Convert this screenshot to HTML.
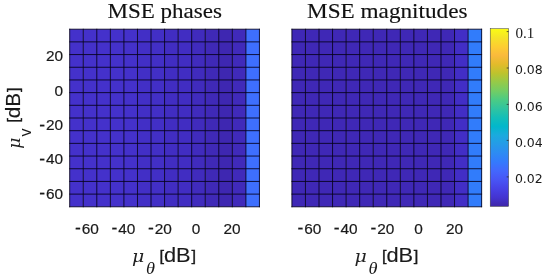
<!DOCTYPE html>
<html><head><meta charset="utf-8"><title>MSE</title>
<style>
html,body{margin:0;padding:0;background:#fff;}
body{width:550px;height:280px;overflow:hidden;}
svg{display:block;}
text{fill:#1a1a1a;}
.tk{font-family:"Liberation Sans",sans-serif;font-size:15.4px;stroke:#1a1a1a;stroke-width:0.2px;}
.hy{font-size:17.5px;}
.cb{font-family:"Liberation Serif",serif;font-size:13.6px;}
.cbs{font-family:"DejaVu Sans",sans-serif;font-size:12.5px;}
.ttl{font-family:"Liberation Serif",serif;font-size:21.5px;fill:#111;stroke:#111;stroke-width:0.15px;}
.br,.db{font-family:"Liberation Sans",sans-serif;}
.mu{font-family:"DejaVu Serif",serif;font-style:italic;font-size:17.4px;fill:#222;}
.muy{font-size:16.6px;}
.sub{font-family:"Liberation Serif",serif;font-style:italic;font-size:16.8px;}
.subv{font-family:"Liberation Sans",sans-serif;font-size:15.5px;}
.br{font-size:15px;stroke:#1a1a1a;stroke-width:0.35px;}
.db{font-size:20px;stroke:#1a1a1a;stroke-width:0.15px;}
</style></head>
<body>
<svg width="550" height="280" viewBox="0 0 550 280">
<defs><linearGradient id="pg" x1="0" y1="0" x2="0" y2="1"><stop offset="0.00" stop-color="rgb(249, 251, 21)"/><stop offset="0.05" stop-color="rgb(245, 228, 40)"/><stop offset="0.10" stop-color="rgb(253, 206, 49)"/><stop offset="0.15" stop-color="rgb(250, 186, 60)"/><stop offset="0.20" stop-color="rgb(227, 187, 43)"/><stop offset="0.25" stop-color="rgb(190, 195, 45)"/><stop offset="0.30" stop-color="rgb(150, 202, 72)"/><stop offset="0.35" stop-color="rgb(115, 205, 100)"/><stop offset="0.40" stop-color="rgb(75, 203, 132)"/><stop offset="0.45" stop-color="rgb(48, 196, 160)"/><stop offset="0.50" stop-color="rgb(20, 190, 184)"/><stop offset="0.55" stop-color="rgb(2, 183, 203)"/><stop offset="0.60" stop-color="rgb(27, 170, 222)"/><stop offset="0.65" stop-color="rgb(37, 155, 232)"/><stop offset="0.70" stop-color="rgb(45, 139, 243)"/><stop offset="0.75" stop-color="rgb(52, 122, 253)"/><stop offset="0.80" stop-color="rgb(67, 103, 253)"/><stop offset="0.85" stop-color="rgb(72, 85, 245)"/><stop offset="0.90" stop-color="rgb(71, 66, 230)"/><stop offset="0.95" stop-color="rgb(68, 52, 208)"/><stop offset="1.00" stop-color="rgb(62, 38, 168)"/></linearGradient></defs>
<rect width="550" height="280" fill="#fff"/>
<rect x="69.70" y="29.2" width="13.85" height="177.60" fill="#4431cb"/>
<rect x="83.25" y="29.2" width="13.85" height="177.60" fill="#4431cb"/>
<rect x="96.81" y="29.2" width="13.85" height="177.60" fill="#4431cb"/>
<rect x="110.36" y="29.2" width="13.85" height="177.60" fill="#4431cb"/>
<rect x="123.91" y="29.2" width="13.85" height="177.60" fill="#4431cb"/>
<rect x="137.47" y="29.2" width="13.85" height="177.60" fill="#422fc6"/>
<rect x="151.02" y="29.2" width="13.85" height="177.60" fill="#422fc6"/>
<rect x="164.57" y="29.2" width="13.85" height="177.60" fill="#412dc2"/>
<rect x="178.13" y="29.2" width="13.85" height="177.60" fill="#412dc2"/>
<rect x="191.68" y="29.2" width="13.85" height="177.60" fill="#402bbd"/>
<rect x="205.24" y="29.2" width="13.85" height="177.60" fill="#3f29b7"/>
<rect x="218.79" y="29.2" width="13.85" height="177.60" fill="#3e27b1"/>
<rect x="232.34" y="29.2" width="13.85" height="177.60" fill="#402aba"/>
<rect x="245.90" y="29.2" width="13.85" height="177.60" fill="#3e6ffe"/>
<path d="M69.70 28.779999999999998V207.22M83.25 28.779999999999998V207.22M96.81 28.779999999999998V207.22M110.36 28.779999999999998V207.22M123.91 28.779999999999998V207.22M137.47 28.779999999999998V207.22M151.02 28.779999999999998V207.22M164.57 28.779999999999998V207.22M178.13 28.779999999999998V207.22M191.68 28.779999999999998V207.22M205.24 28.779999999999998V207.22M218.79 28.779999999999998V207.22M232.34 28.779999999999998V207.22M245.90 28.779999999999998V207.22M259.45 28.779999999999998V207.22M69.28 29.20H259.87M69.28 41.89H259.87M69.28 54.57H259.87M69.28 67.26H259.87M69.28 79.94H259.87M69.28 92.63H259.87M69.28 105.31H259.87M69.28 118.00H259.87M69.28 130.69H259.87M69.28 143.37H259.87M69.28 156.06H259.87M69.28 168.74H259.87M69.28 181.43H259.87M69.28 194.11H259.87M69.28 206.80H259.87" stroke="#05001a" stroke-width="0.85" fill="none"/>
<rect x="291.90" y="29.2" width="13.85" height="177.60" fill="#3f28b6"/>
<rect x="305.45" y="29.2" width="13.85" height="177.60" fill="#3f28b6"/>
<rect x="319.01" y="29.2" width="13.85" height="177.60" fill="#3f28b6"/>
<rect x="332.56" y="29.2" width="13.85" height="177.60" fill="#3f28b6"/>
<rect x="346.11" y="29.2" width="13.85" height="177.60" fill="#3f28b6"/>
<rect x="359.67" y="29.2" width="13.85" height="177.60" fill="#3f28b6"/>
<rect x="373.22" y="29.2" width="13.85" height="177.60" fill="#3f28b6"/>
<rect x="386.77" y="29.2" width="13.85" height="177.60" fill="#3f28b6"/>
<rect x="400.33" y="29.2" width="13.85" height="177.60" fill="#3f28b6"/>
<rect x="413.88" y="29.2" width="13.85" height="177.60" fill="#3f28b6"/>
<rect x="427.44" y="29.2" width="13.85" height="177.60" fill="#3f28b6"/>
<rect x="440.99" y="29.2" width="13.85" height="177.60" fill="#3f28b6"/>
<rect x="454.54" y="29.2" width="13.85" height="177.60" fill="#422ec6"/>
<rect x="468.10" y="29.2" width="13.85" height="177.60" fill="#317cfb"/>
<path d="M291.90 28.779999999999998V207.22M305.45 28.779999999999998V207.22M319.01 28.779999999999998V207.22M332.56 28.779999999999998V207.22M346.11 28.779999999999998V207.22M359.67 28.779999999999998V207.22M373.22 28.779999999999998V207.22M386.77 28.779999999999998V207.22M400.33 28.779999999999998V207.22M413.88 28.779999999999998V207.22M427.44 28.779999999999998V207.22M440.99 28.779999999999998V207.22M454.54 28.779999999999998V207.22M468.10 28.779999999999998V207.22M481.65 28.779999999999998V207.22M291.47999999999996 29.20H482.07M291.47999999999996 41.89H482.07M291.47999999999996 54.57H482.07M291.47999999999996 67.26H482.07M291.47999999999996 79.94H482.07M291.47999999999996 92.63H482.07M291.47999999999996 105.31H482.07M291.47999999999996 118.00H482.07M291.47999999999996 130.69H482.07M291.47999999999996 143.37H482.07M291.47999999999996 156.06H482.07M291.47999999999996 168.74H482.07M291.47999999999996 181.43H482.07M291.47999999999996 194.11H482.07M291.47999999999996 206.80H482.07" stroke="#05001a" stroke-width="0.85" fill="none"/>
<rect x="490.2" y="28.7" width="18.40" height="177.70" fill="url(#pg)" stroke="#3a3a3a" stroke-width="0.5"/>
<path d="M506.70000000000005 31.6H508.6" stroke="#2a2a2a" stroke-width="0.8"/>
<text x="515.4" y="38.1" class="cb" textLength="18.8" lengthAdjust="spacingAndGlyphs">0.1</text>
<path d="M506.70000000000005 68.0H508.6" stroke="#2a2a2a" stroke-width="0.8"/>
<text x="514.9" y="74.2" class="cbs">0.08</text>
<path d="M506.70000000000005 104.4H508.6" stroke="#2a2a2a" stroke-width="0.8"/>
<text x="514.9" y="110.8" class="cbs">0.06</text>
<path d="M506.70000000000005 140.4H508.6" stroke="#2a2a2a" stroke-width="0.8"/>
<text x="514.9" y="146.6" class="cbs">0.04</text>
<path d="M506.70000000000005 176.9H508.6" stroke="#2a2a2a" stroke-width="0.8"/>
<text x="514.9" y="183.3" class="cbs">0.02</text>
<text x="164.7" y="18.4" text-anchor="middle" class="ttl" textLength="114.5" lengthAdjust="spacingAndGlyphs">MSE phases</text>
<text x="387.3" y="18.4" text-anchor="middle" class="ttl" textLength="160.5" lengthAdjust="spacingAndGlyphs">MSE magnitudes</text>
<text x="98.9" y="233.6" text-anchor="end" class="tk"><tspan class="hy" dy="0.7">-</tspan><tspan dx="0.9" dy="-0.7">60</tspan></text>
<text x="135.3" y="233.6" text-anchor="end" class="tk"><tspan class="hy" dy="0.7">-</tspan><tspan dx="0.9" dy="-0.7">40</tspan></text>
<text x="171.9" y="233.6" text-anchor="end" class="tk"><tspan class="hy" dy="0.7">-</tspan><tspan dx="0.9" dy="-0.7">20</tspan></text>
<text x="200.3" y="233.6" text-anchor="end" class="tk">0</text>
<text x="240.7" y="233.6" text-anchor="end" class="tk">20</text>
<text x="321.3" y="233.6" text-anchor="end" class="tk"><tspan class="hy" dy="0.7">-</tspan><tspan dx="0.9" dy="-0.7">60</tspan></text>
<text x="357.7" y="233.6" text-anchor="end" class="tk"><tspan class="hy" dy="0.7">-</tspan><tspan dx="0.9" dy="-0.7">40</tspan></text>
<text x="394.3" y="233.6" text-anchor="end" class="tk"><tspan class="hy" dy="0.7">-</tspan><tspan dx="0.9" dy="-0.7">20</tspan></text>
<text x="422.7" y="233.6" text-anchor="end" class="tk">0</text>
<text x="463.1" y="233.6" text-anchor="end" class="tk">20</text>
<text x="63.0" y="60.5" text-anchor="end" class="tk">20</text>
<text x="63.0" y="95.7" text-anchor="end" class="tk">0</text>
<text x="63.0" y="130.1" text-anchor="end" class="tk"><tspan class="hy" dy="0.7">-</tspan><tspan dx="0.9" dy="-0.7">20</tspan></text>
<text x="63.0" y="164.0" text-anchor="end" class="tk"><tspan class="hy" dy="0.7">-</tspan><tspan dx="0.9" dy="-0.7">40</tspan></text>
<text x="63.0" y="198.6" text-anchor="end" class="tk"><tspan class="hy" dy="0.7">-</tspan><tspan dx="0.9" dy="-0.7">60</tspan></text>
<g transform="translate(133.0,262.1)"><text transform="scale(1.09,1)"><tspan class="mu" x="-0.83" y="0.3">μ</tspan><tspan class="sub" x="11.93" y="11.4">θ</tspan><tspan class="br" x="20.23" y="-0.8"> [</tspan><tspan class="db" x="28.44" y="0.1">dB</tspan><tspan class="br" x="53.58" y="-0.8">]</tspan></text></g>
<g transform="translate(355.4,262.1)"><text transform="scale(1.09,1)"><tspan class="mu" x="-0.83" y="0.3">μ</tspan><tspan class="sub" x="11.93" y="11.4">θ</tspan><tspan class="br" x="20.23" y="-0.8"> [</tspan><tspan class="db" x="28.44" y="0.1">dB</tspan><tspan class="br" x="53.58" y="-0.8">]</tspan></text></g>
<g transform="translate(19.9,147.8) rotate(-90) scale(0.955,1.055)"><text transform="scale(1.09,1)"><tspan class="mu muy" x="-0.92" y="0.3">μ</tspan><tspan class="subv" x="10.92" y="10.2">v</tspan><tspan class="br" x="20.23" y="-0.8"> [</tspan><tspan class="db" x="28.44" y="0.1">dB</tspan><tspan class="br" x="53.58" y="-0.8">]</tspan></text></g>
</svg>
</body></html>
